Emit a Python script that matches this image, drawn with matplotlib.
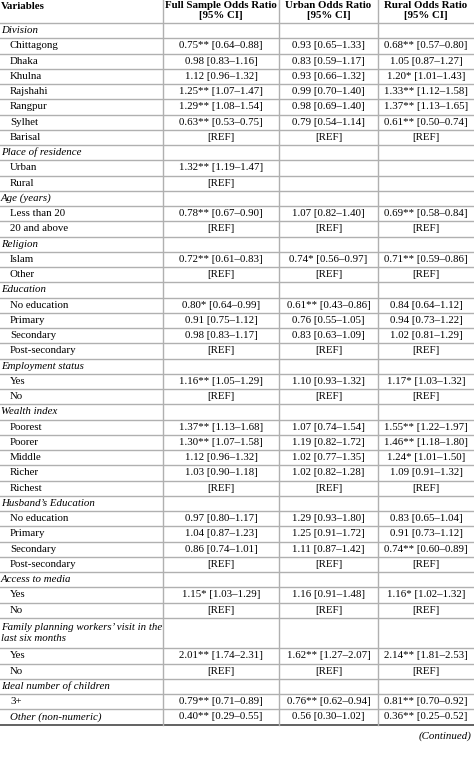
import matplotlib.pyplot as plt

plt.rcParams['font.family'] = ['Liberation Serif', 'DejaVu Serif']

headers = ["Variables", "Full Sample Odds Ratio\n[95% CI]", "Urban Odds Ratio\n[95% CI]", "Rural Odds Ratio\n[95% CI]"]

# (label, is_section, full, urban, rural)
rows = [
    ("Division", True, "", "", ""),
    ("Chittagong", False, "0.75** [0.64–0.88]", "0.93 [0.65–1.33]", "0.68** [0.57–0.80]"),
    ("Dhaka", False, "0.98 [0.83–1.16]", "0.83 [0.59–1.17]", "1.05 [0.87–1.27]"),
    ("Khulna", False, "1.12 [0.96–1.32]", "0.93 [0.66–1.32]", "1.20* [1.01–1.43]"),
    ("Rajshahi", False, "1.25** [1.07–1.47]", "0.99 [0.70–1.40]", "1.33** [1.12–1.58]"),
    ("Rangpur", False, "1.29** [1.08–1.54]", "0.98 [0.69–1.40]", "1.37** [1.13–1.65]"),
    ("Sylhet", False, "0.63** [0.53–0.75]", "0.79 [0.54–1.14]", "0.61** [0.50–0.74]"),
    ("Barisal", False, "[REF]", "[REF]", "[REF]"),
    ("Place of residence", True, "", "", ""),
    ("Urban", False, "1.32** [1.19–1.47]", "", ""),
    ("Rural", False, "[REF]", "", ""),
    ("Age (years)", True, "", "", ""),
    ("Less than 20", False, "0.78** [0.67–0.90]", "1.07 [0.82–1.40]", "0.69** [0.58–0.84]"),
    ("20 and above", False, "[REF]", "[REF]", "[REF]"),
    ("Religion", True, "", "", ""),
    ("Islam", False, "0.72** [0.61–0.83]", "0.74* [0.56–0.97]", "0.71** [0.59–0.86]"),
    ("Other", False, "[REF]", "[REF]", "[REF]"),
    ("Education", True, "", "", ""),
    ("No education", False, "0.80* [0.64–0.99]", "0.61** [0.43–0.86]", "0.84 [0.64–1.12]"),
    ("Primary", False, "0.91 [0.75–1.12]", "0.76 [0.55–1.05]", "0.94 [0.73–1.22]"),
    ("Secondary", False, "0.98 [0.83–1.17]", "0.83 [0.63–1.09]", "1.02 [0.81–1.29]"),
    ("Post-secondary", False, "[REF]", "[REF]", "[REF]"),
    ("Employment status", True, "", "", ""),
    ("Yes", False, "1.16** [1.05–1.29]", "1.10 [0.93–1.32]", "1.17* [1.03–1.32]"),
    ("No", False, "[REF]", "[REF]", "[REF]"),
    ("Wealth index", True, "", "", ""),
    ("Poorest", False, "1.37** [1.13–1.68]", "1.07 [0.74–1.54]", "1.55** [1.22–1.97]"),
    ("Poorer", False, "1.30** [1.07–1.58]", "1.19 [0.82–1.72]", "1.46** [1.18–1.80]"),
    ("Middle", False, "1.12 [0.96–1.32]", "1.02 [0.77–1.35]", "1.24* [1.01–1.50]"),
    ("Richer", False, "1.03 [0.90–1.18]", "1.02 [0.82–1.28]", "1.09 [0.91–1.32]"),
    ("Richest", False, "[REF]", "[REF]", "[REF]"),
    ("Husband’s Education", True, "", "", ""),
    ("No education", False, "0.97 [0.80–1.17]", "1.29 [0.93–1.80]", "0.83 [0.65–1.04]"),
    ("Primary", False, "1.04 [0.87–1.23]", "1.25 [0.91–1.72]", "0.91 [0.73–1.12]"),
    ("Secondary", False, "0.86 [0.74–1.01]", "1.11 [0.87–1.42]", "0.74** [0.60–0.89]"),
    ("Post-secondary", False, "[REF]", "[REF]", "[REF]"),
    ("Access to media", True, "", "", ""),
    ("Yes", False, "1.15* [1.03–1.29]", "1.16 [0.91–1.48]", "1.16* [1.02–1.32]"),
    ("No", False, "[REF]", "[REF]", "[REF]"),
    ("Family planning workers’ visit in the\nlast six months", True, "", "", ""),
    ("Yes", False, "2.01** [1.74–2.31]", "1.62** [1.27–2.07]", "2.14** [1.81–2.53]"),
    ("No", False, "[REF]", "[REF]", "[REF]"),
    ("Ideal number of children", True, "", "", ""),
    ("3+", False, "0.79** [0.71–0.89]", "0.76** [0.62–0.94]", "0.81** [0.70–0.92]"),
    ("Other (non-numeric)", False, "0.40** [0.29–0.55]", "0.56 [0.30–1.02]", "0.36** [0.25–0.52]"),
]

W, H = 474, 760
fig = plt.figure(figsize=(W / 100, H / 100), dpi=100)
fig.patch.set_facecolor('white')
ax = fig.add_axes([0, 0, 1, 1])
ax.set_xlim(0, W)
ax.set_ylim(H, 0)
ax.axis('off')

col_x = [0, 163, 279, 378, 474]
header_h = 23
row_h = 15.25
line_c = '#b0b0b0'
fs = 7.8

# header
for i, h in enumerate(headers):
    if i == 0:
        ax.text(1, 2, h, ha='left', va='top', fontsize=fs, fontweight='bold')
    else:
        ax.text((col_x[i] + col_x[i + 1]) / 2, 1, h, ha='center', va='top',
                fontsize=fs, fontweight='bold', linespacing=1.1)

y = header_h
ax.plot([0, W], [y, y], color=line_c, lw=1)
last = len(rows) - 1
for k, (label, section, *vals) in enumerate(rows):
    h = row_h * (2 if '\n' in label else 1)
    cy = y + h / 2
    if section:
        ax.text(1, cy, label, ha='left', va='center', fontsize=fs, style='italic', linespacing=1.25)
    else:
        ax.text(10, cy, label, ha='left', va='center', fontsize=fs,
                style='italic' if label.startswith('Other (') else 'normal')
    for j, v in enumerate(vals):
        if v:
            ax.text((col_x[j + 1] + col_x[j + 2]) / 2, cy, v, ha='center', va='center', fontsize=fs)
    y += h
    if k == last:
        ax.plot([0, W], [y, y], color='#555555', lw=1.3)
    else:
        ax.plot([0, W], [y, y], color=line_c, lw=1)

for xc in col_x[1:4]:
    ax.plot([xc, xc], [0, y], color=line_c, lw=1)

ax.text(W - 3, y + 12, "(Continued)", ha='right', va='center', fontsize=fs, style='italic')

fig.savefig('out.png', dpi=100)
